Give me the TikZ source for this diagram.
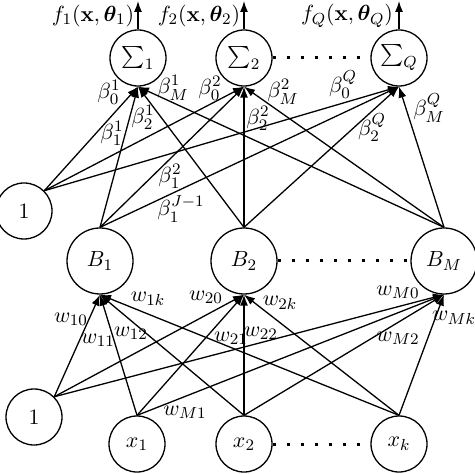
\documentclass[tikz,border=0pt]{standalone}
\usepackage{amsmath,amssymb,bm}
\usetikzlibrary{arrows.meta}
\begin{document}
\begin{tikzpicture}[x=0.5pt,y=-0.5pt,
  every node/.style={font=\fontsize{11}{13}\selectfont},
  neuron/.style={circle,draw,line width=0.65pt,minimum size=28pt,inner sep=0pt},
  bnode/.style={neuron,minimum size=33pt},
  conn/.style={line width=0.65pt,-{Latex[length=5.5pt,width=4pt]}},
  dots/.style={line width=1.5pt,dash pattern=on 1.5pt off 5.5pt},
  lab/.style={inner sep=0pt}]
\useasboundingbox (0,0) rectangle (474,474);
% nodes
\node[neuron] (S1) at (138,58) {$\sum_1$};
\node[neuron] (S2) at (244,58) {$\sum_2$};
\node[neuron] (SQ) at (399,58) {$\sum_Q$};
\node[neuron] (o1) at (24,211) {$1$};
\node[bnode] (B1) at (100,261) {$B_1$};
\node[bnode] (B2) at (244,261) {$B_2$};
\node[bnode] (BM) at (444,261) {$B_M$};
\node[neuron] (o2) at (34,417) {$1$};
\node[neuron] (X1) at (137,444) {$x_1$};
\node[neuron] (X2) at (244,444) {$x_2$};
\node[neuron] (XK) at (399,444) {$x_k$};
% outputs
\coordinate (T1) at (138,1);
\coordinate (T2) at (244,1);
\coordinate (TQ) at (399,1);
\draw[conn] (S1.north) -- (T1);
\draw[conn] (S2.north) -- (T2);
\draw[conn] (SQ.north) -- (TQ);
\node[lab] (f1) at (93,16) {$f_1(\mathbf{x},\boldsymbol{\theta}_1)$};
\node[lab] (f2) at (199,16) {$f_2(\mathbf{x},\boldsymbol{\theta}_2)$};
\node[lab] (fQ) at (347,16) {$f_Q(\mathbf{x},\boldsymbol{\theta}_Q)$};
% dotted
\draw[dots] (S2.east) -- (SQ.west);
\draw[dots] (B2.east) -- (BM.west);
\draw[dots] (X2.east) -- (XK.west);
% hidden -> output
\foreach \s in {S1,S2,SQ}{
  \draw[conn] (o1.north east) -- (\s.south);
  \foreach \b in {B1,B2,BM}{
    \draw[conn] (\b.north) -- (\s.south);
  }
}
% input -> hidden
\foreach \b in {B1,B2,BM}{
  \draw[conn] (o2.north east) -- (\b.south);
  \foreach \x in {X1,X2,XK}{
    \draw[conn] (\x.north) -- (\b.south);
  }
}
% beta labels
\node[lab] (b01) at (109,92) {$\beta_0^1$};
\node[lab] (bM1) at (173,88) {$\beta_M^1$};
\node[lab] (b02) at (210,88) {$\beta_0^2$};
\node[lab] (bM2) at (283,92) {$\beta_M^2$};
\node[lab] (b0Q) at (343,85) {$\beta_0^Q$};
\node[lab] (bMQ) at (429,108) {$\beta_M^Q$};
\node[lab] (b11) at (112,133) {$\beta_1^1$};
\node[lab] (b21) at (143,117) {$\beta_2^1$};
\node[lab] (b22) at (258,118) {$\beta_2^2$};
\node[lab] (b2Q) at (372,128) {$\beta_2^Q$};
\node[lab] (b12) at (170,176) {$\beta_1^2$};
\node[lab] (b1J) at (181,209) {$\beta_1^{J-1}$};
% w labels
\node[lab] (w10) at (71,319) {$w_{10}$};
\node[lab] (w11) at (98,340) {$w_{11}$};
\node[lab] (w12) at (131,333) {$w_{12}$};
\node[lab] (w1k) at (148,299) {$w_{1k}$};
\node[lab] (w20) at (206,297) {$w_{20}$};
\node[lab] (w21) at (231,338) {$w_{21}$};
\node[lab] (w22) at (261,333) {$w_{22}$};
\node[lab] (w2k) at (280,303) {$w_{2k}$};
\node[lab] (wM0) at (398,292) {$w_{M0}$};
\node[lab] (wM2) at (398,338) {$w_{M2}$};
\node[lab] (wMk) at (454,318) {$w_{Mk}$};
\node[lab] (wM1) at (185,412) {$w_{M1}$};
\end{tikzpicture}
\end{document}
